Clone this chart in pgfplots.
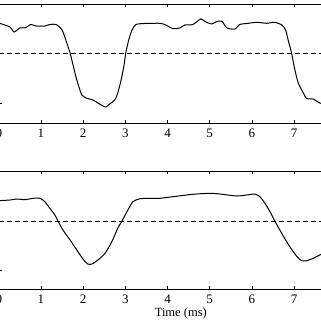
\documentclass[border=0pt]{standalone}
\usepackage{pgfplots}
\pgfplotsset{compat=1.18}
\usepackage{fontspec}
\setmainfont{Liberation Serif}
\pgfplotstableread{
t v
0.00 100
0.265 96
0.36 91
0.50 95
0.62 95
0.76 98.5
0.88 97
1.09 97
1.21 98.5
1.36 98.5
1.50 93
1.59 83
1.69 70
1.76 58
1.83 46
1.90 36
1.97 28
2.07 25
2.23 23
2.35 20
2.47 17
2.54 16
2.63 19
2.75 23
2.82 30
2.90 43
2.97 58
3.01 70
3.08 83
3.16 93
3.25 98.5
3.46 99.5
3.82 99.7
3.96 98
4.13 94.3
4.29 95
4.41 98
4.60 98.5
4.79 104
4.91 101
5.05 99
5.17 101.5
5.29 101.7
5.41 95
5.60 94
5.71 98.5
5.88 99.5
6.12 100.7
6.35 99.7
6.54 100.7
6.71 98
6.80 93
6.86 83
6.94 70
7.02 53
7.10 40
7.22 30
7.30 24.3
7.45 24
7.61 20
7.80 18
}\topdata
\pgfplotstableread{
t v
0.00 88.3
0.265 89
0.43 90
0.62 89.3
0.81 90.7
0.98 90.7
1.09 87.3
1.21 80.7
1.33 74
1.40 68.3
1.52 59
1.69 49
1.85 39
2.00 29.7
2.11 25
2.21 25
2.35 29
2.52 35.7
2.68 47.3
2.82 60.7
2.92 68
3.06 79
3.18 87.3
3.35 90.3
3.70 90.7
3.82 90.7
4.13 92.3
4.60 94.7
5.00 95.7
5.24 95
5.64 93
5.88 94
6.07 95
6.19 92.3
6.31 85.7
6.43 77.3
6.54 68.3
6.73 54
6.90 42.3
7.07 32.3
7.18 28.3
7.30 28.3
7.45 30.7
7.61 34
7.80 38
}\botdata
\pgfplotsset{
  myax/.style={
    scale only axis,
    width=364pt,
    xmin=0, xmax=8.63,
    ymin=0,
    xtick={0,1,2,3,4,5,6,7,8},
    tick align=inside,
    major tick length=3pt,
    axis line style={line width=0.9pt},
    every tick/.style={line width=0.7pt, black},
    tick label style={font=\fontsize{13}{15}\selectfont},
    xticklabel style={yshift=-2.2pt},
    /pgf/number format/assume math mode=true,
    yticklabels={},
    anchor=south west,
  }
}
\begin{document}
\begin{tikzpicture}[x=1pt,y=1pt]
\begin{axis}[myax, at={(-1.2pt,-123pt)}, height=119pt, ymax=119, ytick={20}]
\addplot[black, line width=1pt, smooth, tension=0.4] table[x=t,y=v] {\topdata};
\addplot[black, line width=0.8pt, dash pattern=on 5pt off 3pt] coordinates {(0,70) (8.63,70)};
\end{axis}
\begin{axis}[myax, at={(-1.2pt,-289pt)}, height=118pt, ymax=118, ytick={19},
  xlabel={Time (ms)}, xlabel style={font=\fontsize{12.5}{14}\selectfont, yshift=3pt}]
\addplot[black, line width=1pt, smooth, tension=0.4] table[x=t,y=v] {\botdata};
\addplot[black, line width=0.8pt, dash pattern=on 5pt off 3pt] coordinates {(0,68) (8.63,68)};
\end{axis}
\pgfresetboundingbox
\path[use as bounding box] (0pt,0pt) rectangle (320pt,-320pt);
\end{tikzpicture}
\end{document}
